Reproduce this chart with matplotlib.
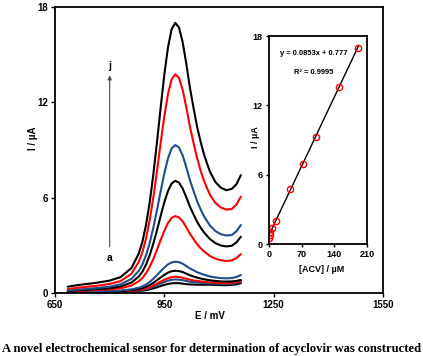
import matplotlib
matplotlib.use("Agg")
import matplotlib.pyplot as plt

plt.rcParams['font.family'] = ['Liberation Sans', 'DejaVu Sans']

# ---- main voltammograms (E / mV, I / uA) ----
potential = [685, 720, 760, 800, 830, 860, 880, 890, 900, 910, 920, 930, 940, 950, 960, 970,
             980, 990, 1000, 1010, 1020, 1030, 1040, 1050, 1060, 1075, 1090, 1105, 1120,
             1135, 1148, 1160]

curve_a = [0.02, 0.03, 0.04, 0.05, 0.06, 0.08, 0.12, 0.15, 0.18, 0.23, 0.29, 0.36, 0.44, 0.51,
           0.57, 0.61, 0.62, 0.62, 0.59, 0.56, 0.54, 0.53, 0.52, 0.52, 0.52, 0.52, 0.51, 0.50,
           0.49, 0.51, 0.55, 0.62]
curve_b = [0.03, 0.04, 0.05, 0.06, 0.08, 0.11, 0.16, 0.19, 0.24, 0.31, 0.40, 0.49, 0.60, 0.69,
           0.78, 0.83, 0.85, 0.84, 0.81, 0.76, 0.71, 0.68, 0.66, 0.64, 0.63, 0.60, 0.58, 0.57,
           0.56, 0.58, 0.63, 0.70]
curve_c = [0.04, 0.05, 0.06, 0.07, 0.09, 0.13, 0.19, 0.23, 0.29, 0.37, 0.48, 0.59, 0.72, 0.83,
           0.93, 1.00, 1.02, 1.01, 0.96, 0.90, 0.84, 0.79, 0.76, 0.73, 0.70, 0.67, 0.64, 0.62,
           0.61, 0.63, 0.68, 0.75]
curve_d = [0.05, 0.06, 0.08, 0.09, 0.12, 0.17, 0.25, 0.30, 0.39, 0.50, 0.64, 0.81, 0.98, 1.14,
           1.28, 1.37, 1.40, 1.38, 1.32, 1.22, 1.12, 1.04, 0.97, 0.91, 0.86, 0.80, 0.76, 0.73,
           0.72, 0.73, 0.76, 0.82]
curve_e = [0.07, 0.09, 0.10, 0.13, 0.16, 0.23, 0.33, 0.42, 0.54, 0.70, 0.90, 1.13, 1.37, 1.60,
           1.80, 1.92, 1.97, 1.94, 1.85, 1.70, 1.55, 1.43, 1.31, 1.22, 1.14, 1.04, 0.98, 0.94,
           0.92, 0.94, 1.01, 1.13]
curve_f = [0.10, 0.14, 0.18, 0.23, 0.30, 0.47, 0.74, 0.95, 1.25, 1.65, 2.15, 2.73, 3.34, 3.92,
           4.40, 4.73, 4.84, 4.76, 4.52, 4.15, 3.74, 3.40, 3.07, 2.81, 2.60, 2.33, 2.16, 2.06,
           2.02, 2.05, 2.20, 2.45]
curve_g = [0.12, 0.18, 0.23, 0.30, 0.41, 0.66, 1.04, 1.35, 1.80, 2.39, 3.12, 3.96, 4.86, 5.71,
           6.42, 6.89, 7.06, 6.95, 6.59, 6.04, 5.45, 4.95, 4.48, 4.10, 3.78, 3.40, 3.14, 2.99,
           2.93, 2.97, 3.19, 3.54]
curve_h = [0.15, 0.23, 0.30, 0.40, 0.55, 0.89, 1.40, 1.81, 2.39, 3.16, 4.13, 5.24, 6.41, 7.53,
           8.47, 9.09, 9.31, 9.16, 8.67, 7.94, 7.12, 6.43, 5.78, 5.24, 4.78, 4.25, 3.90, 3.70,
           3.62, 3.65, 3.89, 4.28]
curve_i = [0.25, 0.35, 0.44, 0.57, 0.75, 1.22, 1.97, 2.58, 3.45, 4.60, 6.04, 7.70, 9.45, 11.12,
           12.52, 13.44, 13.77, 13.54, 12.82, 11.72, 10.50, 9.45, 8.49, 7.67, 6.99, 6.19, 5.67,
           5.38, 5.25, 5.28, 5.58, 6.06]
curve_j = [0.40, 0.52, 0.63, 0.78, 1.00, 1.58, 2.49, 3.24, 4.31, 5.73, 7.50, 9.53, 11.69, 13.74,
           15.46, 16.60, 17.00, 16.72, 15.82, 14.47, 12.95, 11.67, 10.45, 9.48, 8.63, 7.64, 6.99,
           6.63, 6.47, 6.55, 6.85, 7.42]

curves = [curve_a, curve_b, curve_c, curve_d, curve_e,
          curve_f, curve_g, curve_h, curve_i, curve_j]
curve_colors = ['black', '#1f4e8c', 'red', 'black', '#1f4e8c',
                'red', 'black', '#1f4e8c', 'red', 'black']

x_ticks = [650, 950, 1250, 1550]
y_ticks = [0, 6, 12, 18]

# ---- calibration inset ----
conc = [0.5, 1.5, 3, 6.5, 15, 45, 73, 101, 149, 191]
peak_current = [0.55, 0.80, 1.05, 1.35, 1.95, 4.75, 6.95, 9.30, 13.60, 17.00]
fit_x = [0, 192]
slope = 0.0853
intercept = 0.777
inset_x_ticks = [0, 70, 140, 210]
inset_y_ticks = [0, 6, 12, 18]

W, H = 423, 356
fig = plt.figure(figsize=(W / 100, H / 100), dpi=100)


def fx(px):
    return px / W


def fy(py):
    return 1 - py / H


ax = fig.add_axes([fx(55), fy(293), fx(383) - fx(55), fy(7) - fy(293)])
for c, col in zip(curves, curve_colors):
    ax.plot(potential, c, color=col, lw=1.5, solid_capstyle='round',
            solid_joinstyle='round')

ax.set_xlim(650, 1550)
ax.set_ylim(0, 18)
ax.set_xticks(x_ticks)
ax.set_yticks(y_ticks)
ax.tick_params(direction='out', length=3, width=1, labelsize=7, pad=2)
for lab in ax.get_xticklabels() + ax.get_yticklabels():
    lab.set_fontweight('bold')
for s in ax.spines.values():
    s.set_linewidth(1.3)

fig.text(fx(210), fy(316), 'E / mV', ha='center', va='center',
         fontsize=7, fontweight='bold')
fig.text(fx(33), fy(138), 'I / µA', ha='center', va='center',
         fontsize=7, fontweight='bold', rotation=90)

ax.annotate('', xy=(800, 13.7), xytext=(800, 2.9),
            arrowprops=dict(arrowstyle='-|>', color='0.3', lw=0.8,
                            mutation_scale=6, shrinkA=0, shrinkB=0))
ax.text(800, 14.3, 'j', ha='center', va='center', fontsize=7.5, fontweight='bold')
ax.text(800, 2.2, 'a', ha='center', va='center', fontsize=7.5, fontweight='bold')

# inset
ins = fig.add_axes([fx(269), fy(244), fx(367) - fx(269), fy(36) - fy(244)])
ins.plot(fit_x, [slope * v + intercept for v in fit_x], color='black', lw=1.0)
ins.plot(conc, peak_current, 'o', mfc='none', mec='red', mew=1.0, ms=4.5)
ins.set_xlim(0, 210)
ins.set_ylim(0, 18)
ins.set_xticks(inset_x_ticks)
ins.set_yticks(inset_y_ticks)
ins.tick_params(direction='out', length=2.5, width=1, labelsize=6.5, pad=2)
for lab in ins.get_xticklabels() + ins.get_yticklabels():
    lab.set_fontweight('bold')
for s in ins.spines.values():
    s.set_linewidth(1.3)
ins.text(0.46, 0.915, 'y = 0.0853x + 0.777', transform=ins.transAxes,
         ha='center', va='center', fontsize=5.4, fontweight='bold')
ins.text(0.46, 0.825, 'R² = 0.9995', transform=ins.transAxes,
         ha='center', va='center', fontsize=5.4, fontweight='bold')
fig.text(fx(255), fy(137), 'I / µA', ha='center', va='center',
         fontsize=6.5, fontweight='bold', rotation=90)
fig.text(fx(322), fy(269), '[ACV] / µM', ha='center', va='center',
         fontsize=6.5, fontweight='bold')

fig.text(fx(2), fy(349), 'A novel electrochemical sensor for determination of acyclovir was constructed',
         ha='left', va='center', fontsize=9.1, fontweight='bold',
         family=['Liberation Serif', 'DejaVu Serif'])

fig.savefig('out.png', dpi=100)
